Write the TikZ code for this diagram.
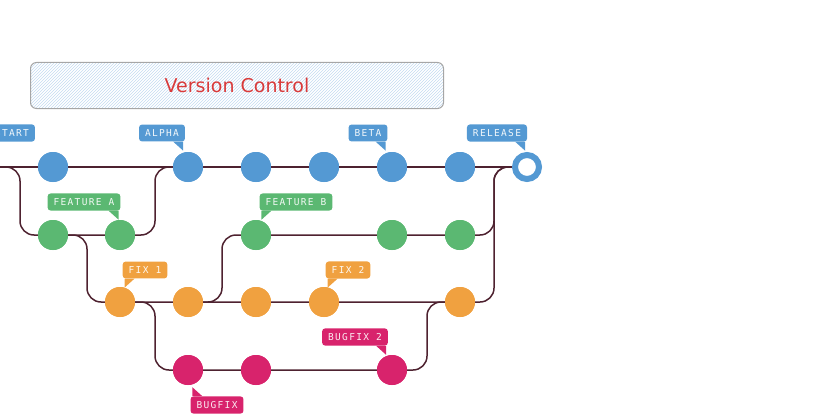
\documentclass[tikz,border=0pt]{standalone}
\usepackage{fontspec}
\setmainfont{DejaVu Sans}
\newfontfamily\tagfont[LetterSpace=14]{DejaVu Sans Mono}
\usetikzlibrary{patterns}
\definecolor{cBlue}{HTML}{5499D3}
\definecolor{cGreen}{HTML}{5BB872}
\definecolor{cOrange}{HTML}{F0A140}
\definecolor{cPink}{HTML}{D8236C}
\definecolor{cLine}{HTML}{4E2230}
\definecolor{cTitle}{HTML}{D93A3A}

\begin{document}
\begin{tikzpicture}[x=1pt,y=-1pt,
    commit/.style = {circle, minimum size = 30, inner sep = 0, fill = #1},
    branch/.style = {draw = cLine, line width = 1.5, rounded corners = 14},
    tag/.style = {rectangle, rounded corners = 3, fill = #1, text = white!92!#1,
      font = \tagfont\fontsize{9.5}{10}\selectfont, inner xsep = 6, inner ysep = 5}
  ]
  \useasboundingbox (0,0) rectangle (840,420);

  % title
  \node [draw = gray!70, line width = 1, rounded corners = 6,
    pattern = north east lines, pattern color = cBlue!35,
    minimum width = 413, minimum height = 46, anchor = north west,
    font = \fontsize{19}{22}\selectfont, text = cTitle] (title) at (30,62) {Version Control};

  % commits
  \node [commit = cBlue] (b1) at (53,167) {};
  \node [commit = cBlue] (b2) at (188,167) {};
  \node [commit = cBlue] (b3) at (256,167) {};
  \node [commit = cBlue] (b4) at (324,167) {};
  \node [commit = cBlue] (b5) at (392,167) {};
  \node [commit = cBlue] (b6) at (460,167) {};
  \coordinate (rel) at (527,167);
  \coordinate (left) at (0,167);

  \node [commit = cGreen] (g1) at (53,235) {};
  \node [commit = cGreen] (g2) at (120,235) {};
  \node [commit = cGreen] (g3) at (256,235) {};
  \node [commit = cGreen] (g4) at (392,235) {};
  \node [commit = cGreen] (g5) at (460,235) {};

  \node [commit = cOrange] (o1) at (120,302) {};
  \node [commit = cOrange] (o2) at (188,302) {};
  \node [commit = cOrange] (o3) at (256,302) {};
  \node [commit = cOrange] (o4) at (324,302) {};
  \node [commit = cOrange] (o5) at (460,302) {};

  \node [commit = cPink] (p1) at (188,370) {};
  \node [commit = cPink] (p2) at (256,370) {};
  \node [commit = cPink] (p3) at (392,370) {};

  % branches
  \draw [branch] (left) -- (rel);
  \draw [branch] (left) -- ++(20,0) |- (g1);
  \draw [branch] (g1) -- (g2) -- ++(35,0) |- (b2);
  \draw [branch] (g1) -- ++(34,0) |- (o1);
  \draw [branch] (o1) -- (o5) -- ++(34,0) |- (rel);
  \draw [branch] (o2) -- ++(34,0) |- (g3);
  \draw [branch] (g3) -- (g5) -- ++(34,0) |- (rel);
  \draw [branch] (o1) -- ++(35,0) |- (p1);
  \draw [branch] (p1) -- (p3) -- ++(35,0) |- (o5);

  % redraw commits on top
  \foreach \n/\c in {b1/cBlue,b2/cBlue,b3/cBlue,b4/cBlue,b5/cBlue,b6/cBlue,
      g1/cGreen,g2/cGreen,g3/cGreen,g4/cGreen,g5/cGreen,
      o1/cOrange,o2/cOrange,o3/cOrange,o4/cOrange,o5/cOrange,
      p1/cPink,p2/cPink,p3/cPink}
    \fill [\c] (\n) circle (15);
  \node [circle, draw = cBlue, line width = 6, fill = white, minimum size = 24, inner sep = 0] (b7) at (rel) {};

  % tags
  \node [tag = cBlue] (tStart) at (12,133) {START};
  \node [tag = cBlue] (tAlpha) at (162,133) {ALPHA};
  \node [tag = cBlue] (tBeta) at (368,133) {BETA};
  \node [tag = cBlue] (tRelease) at (497,133) {RELEASE};
  \node [tag = cGreen] (tFeatA) at (84,202) {FEATURE A};
  \node [tag = cGreen] (tFeatB) at (296,202) {FEATURE B};
  \node [tag = cOrange] (tFix1) at (145,270) {FIX 1};
  \node [tag = cOrange] (tFix2) at (348,270) {FIX 2};
  \node [tag = cPink] (tBug2) at (355,337) {BUGFIX 2};
  \node [tag = cPink] (tBug) at (217,405) {BUGFIX};

  \fill [cBlue] ([xshift=-12]tAlpha.south east) -- ++(10,0) -- ++(0,9) -- cycle;
  \fill [cBlue] ([xshift=-12]tBeta.south east) -- ++(10,0) -- ++(0,9) -- cycle;
  \fill [cBlue] ([xshift=-12]tRelease.south east) -- ++(10,0) -- ++(0,9) -- cycle;
  \fill [cGreen] ([xshift=-12]tFeatA.south east) -- ++(10,0) -- ++(0,9) -- cycle;
  \fill [cGreen] ([xshift=2]tFeatB.south west) -- ++(10,0) -- ++(-10,9) -- cycle;
  \fill [cOrange] ([xshift=2]tFix1.south west) -- ++(10,0) -- ++(-10,9) -- cycle;
  \fill [cOrange] ([xshift=2]tFix2.south west) -- ++(10,0) -- ++(-10,9) -- cycle;
  \fill [cPink] ([xshift=-12]tBug2.south east) -- ++(10,0) -- ++(0,9) -- cycle;
  \fill [cPink] ([xshift=2]tBug.north west) -- ++(10,0) -- ++(-10,-9) -- cycle;
\end{tikzpicture}
\end{document}
